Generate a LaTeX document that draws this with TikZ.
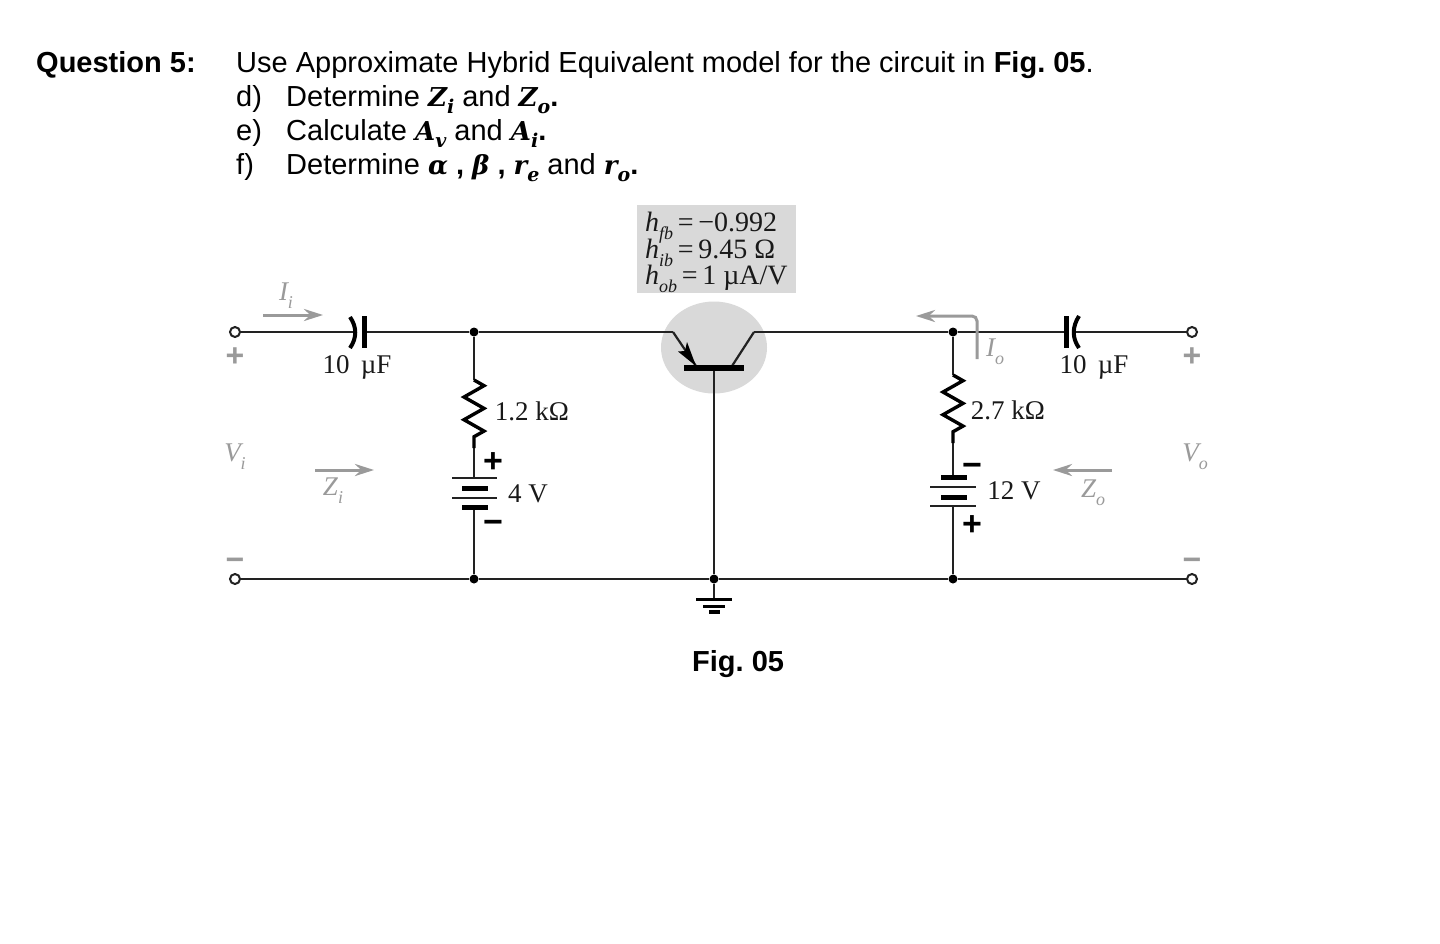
\documentclass[tikz,border=0pt]{standalone}
\usepackage{fontspec}
\setmainfont{Liberation Sans}
\newfontfamily\cirfont{Liberation Serif}
\newfontfamily\symfont{DejaVu Serif}
\usetikzlibrary{decorations.pathmorphing,arrows.meta}
\frenchspacing

% bold italic symbol with a subscript, as in the question text
\newcommand{\bsym}[2]{{\symfont\bfseries\itshape\fontsize{26}{30}\selectfont #1\raisebox{-0.3em}{\fontsize{19}{19}\selectfont #2}}}
% serif italic symbol with a subscript, for circuit labels
\newcommand{\isym}[2]{{\cirfont\itshape #1\raisebox{-0.3em}{\fontsize{18}{18}\selectfont #2}}}

\definecolor{wirecol}{HTML}{222222}
\definecolor{labgray}{HTML}{9A9A9A}
\definecolor{boxgray}{HTML}{D9D9D9}

\tikzset{
  txt/.style={inner sep=0pt,anchor=base west,font=\fontsize{29}{34}\selectfont,text=black},
  val/.style={inner sep=0pt,font=\cirfont\fontsize{27}{30}\selectfont,text=black!90},
  par/.style={inner sep=0pt,anchor=base west,font=\cirfont\fontsize{28}{30}\selectfont,text=black!90},
  glab/.style={inner sep=0pt,font=\cirfont\itshape\fontsize{27}{30}\selectfont,text=labgray},
  gsign/.style={inner sep=0pt,font=\bfseries\fontsize{32}{32}\selectfont,text=labgray},
  ksign/.style={inner sep=0pt,font=\bfseries\fontsize{34}{34}\selectfont,text=black},
  wire/.style={line width=2.2pt,draw=wirecol},
  dot/.style={circle,fill=black,inner sep=0pt,minimum size=9pt},
  term/.style={circle,draw=wirecol,fill=white,line width=2pt,inner sep=0pt,minimum size=10pt},
  res/.style={line width=3.4pt,draw=black,decorate,decoration={zigzag,amplitude=10pt,segment length=22.7pt}},
  thin plate/.style={line width=2pt,draw=wirecol},
  thick plate/.style={line width=5pt,draw=black},
  garrow/.style={line width=3pt,draw=labgray,-{Stealth[length=19pt,width=12pt]}},
  x=1pt,y=-1pt
}

\begin{document}
\begin{tikzpicture}
\useasboundingbox[fill=white] (0,0) rectangle (1440,943);

% question text
\node[txt,font=\bfseries\fontsize{29}{34}\selectfont] (q) at (36,72) {Question 5:};
\node[txt] (q0) at (236,72) {Use Approximate Hybrid Equivalent model for the circuit in \textbf{Fig. 05}.};
\node[txt] (qd) at (236,106) {d)};
\node[txt] (qdt) at (286,106) {Determine \bsym{Z}{i} and \bsym{Z}{o}\textbf{.}};
\node[txt] (qe) at (236,140) {e)};
\node[txt] (qet) at (286,140) {Calculate \bsym{A}{v} and \bsym{A}{i}\textbf{.}};
\node[txt] (qf) at (236,174) {f)};
\node[txt] (qft) at (286,174) {Determine \bsym{α}{} \textbf{,} \bsym{β}{} \textbf{,} \bsym{r}{e} and \bsym{r}{o}\textbf{.}};

% parameter box
\fill[boxgray] (637,205) rectangle (796,293);
\node[par] (hfb) at (645,231) {\isym{h}{fb}\,=\,−0.992};
\node[par] (hib) at (645,258) {\isym{h}{ib}\,=\,9.45 Ω};
\node[par] (hob) at (645,284) {\isym{h}{ob}\,=\,1 µA/V};

% transistor halo
\fill[boxgray] (714,347.5) ellipse (53 and 46);

% terminals and junctions
\node[term] (ti) at (235,332) {};
\node[term] (bi) at (235,579) {};
\node[term] (to) at (1192,332) {};
\node[term] (bo) at (1192,579) {};
\node[dot] (j1) at (474,332) {};
\node[dot] (j2) at (953,332) {};
\node[dot] (j3) at (474,579) {};
\node[dot] (j4) at (714,579) {};
\node[dot] (j5) at (953,579) {};

% points on the circuit
\coordinate (c1a) at (353,332);
\coordinate (c1b) at (364,332);
\coordinate (c2a) at (1066,332);
\coordinate (c2b) at (1076,332);
\coordinate (e) at (673,332);
\coordinate (e2) at (696,366);
\coordinate (c) at (754,332);
\coordinate (c3) at (732,366);
\coordinate (b) at (714,368);
\coordinate (r1t) at (474,380);
\coordinate (r1b) at (474,448);
\coordinate (r2t) at (953,375);
\coordinate (r2b) at (953,443);
\coordinate (b1t) at (474,478);
\coordinate (b1b) at (474,507);
\coordinate (b2t) at (953,477);
\coordinate (b2b) at (953,506);
\coordinate (g) at (714,599);

% wires
\draw[wire] (ti) -- (c1a);
\draw[wire] (c1b) -- (j1);
\draw[wire] (j1) -- (e);
\draw[wire] (e) -- (e2);
\draw[wire] (c) -- (c3);
\draw[wire] (c) -- (j2);
\draw[wire] (j2) -- (c2a);
\draw[wire] (c2b) -- (to);
\draw[wire] (bi) -- (j3);
\draw[wire] (j3) -- (j4);
\draw[wire] (j4) -- (j5);
\draw[wire] (j5) -- (bo);
\draw[wire] (b) -- (j4);
\draw[wire] (j4) -- (g);
\draw[wire] (j1) -- (r1t);
\draw[wire] (r1b) -- (b1t);
\draw[wire] (b1b) -- (j3);
\draw[wire] (j2) -- (r2t);
\draw[wire] (r2b) -- (b2t);
\draw[wire] (b2b) -- (j5);

% emitter arrow and base bar
\fill[black] (696,366) -- (678,351.5) -- (685,351) -- (687,342) -- cycle;
\draw[line width=6pt,draw=black] (684,368) -- (744,368);

% capacitors
\draw[line width=4pt,draw=black] (350,317) .. controls (357,327) and (357,338) .. (350,348);
\draw[line width=5pt,draw=black] (364,316) -- (364,348);
\draw[line width=5pt,draw=black] (1066,316) -- (1066,348);
\draw[line width=4pt,draw=black] (1079,316) .. controls (1072,327) and (1072,338) .. (1079,348);

% resistors
\draw[res] (r1t) -- (r1b);
\draw[res] (r2t) -- (r2b);

% batteries
\draw[thin plate] (452,478) -- (497,478);
\draw[thick plate] (462,488) -- (488,488);
\draw[thin plate] (452,498) -- (497,498);
\draw[thick plate] (462,507) -- (488,507);
\draw[thick plate] (941,477) -- (967,477);
\draw[thin plate] (930,487) -- (976,487);
\draw[thick plate] (941,497) -- (967,497);
\draw[thin plate] (930,506) -- (976,506);

% ground
\draw[line width=3pt,draw=black] (696,599) -- (732,599);
\draw[line width=3pt,draw=black] (703,606) -- (725,606);
\draw[line width=3.5pt,draw=black] (709,612) -- (720,612);

% gray arrows
\coordinate (iia) at (263,315);
\coordinate (iib) at (323,315);
\coordinate (zia) at (315,470);
\coordinate (zib) at (374,470);
\coordinate (zoa) at (1112,470);
\coordinate (zob) at (1053,470);
\coordinate (ioa) at (977,359);
\coordinate (iob) at (916,316);
\draw[garrow] (iia) -- (iib);
\draw[garrow] (zia) -- (zib);
\draw[garrow] (zoa) -- (zob);
\draw[garrow,rounded corners=5pt] (ioa) |- (iob);

% values
\node[val] (v1) at (357,367) {10\, µF};
\node[val] (v2) at (1094,367) {10\, µF};
\node[val] (v3) at (532,411) {1.2 kΩ};
\node[val] (v4) at (1008,410) {2.7 kΩ};
\node[val] (v5) at (528,494) {4 V};
\node[val] (v6) at (1014,491) {12 V};

% battery signs
\node[ksign] (s1) at (493,463) {+};
\node[ksign] (s2) at (493,527) {−};
\node[ksign] (s3) at (972,470) {−};
\node[ksign] (s4) at (972,526) {+};

% gray labels
\node[gsign] (s5) at (235,357) {+};
\node[gsign] (s6) at (235,564) {−};
\node[gsign] (s7) at (1192,357) {+};
\node[gsign] (s8) at (1192,564) {−};
\node[glab] (ii) at (286,296) {\isym{I}{i}};
\node[glab] (io) at (995,352) {\isym{I}{o}};
\node[glab] (zi) at (333,491) {\isym{Z}{i}};
\node[glab] (zo) at (1093,493) {\isym{Z}{o}};
\node[glab] (vi) at (235,457) {\isym{V}{i}};
\node[glab] (vo) at (1195,457) {\isym{V}{o}};

\node[txt,font=\bfseries\fontsize{29}{34}\selectfont] (fig) at (692,671) {Fig. 05};
\end{tikzpicture}
\end{document}
